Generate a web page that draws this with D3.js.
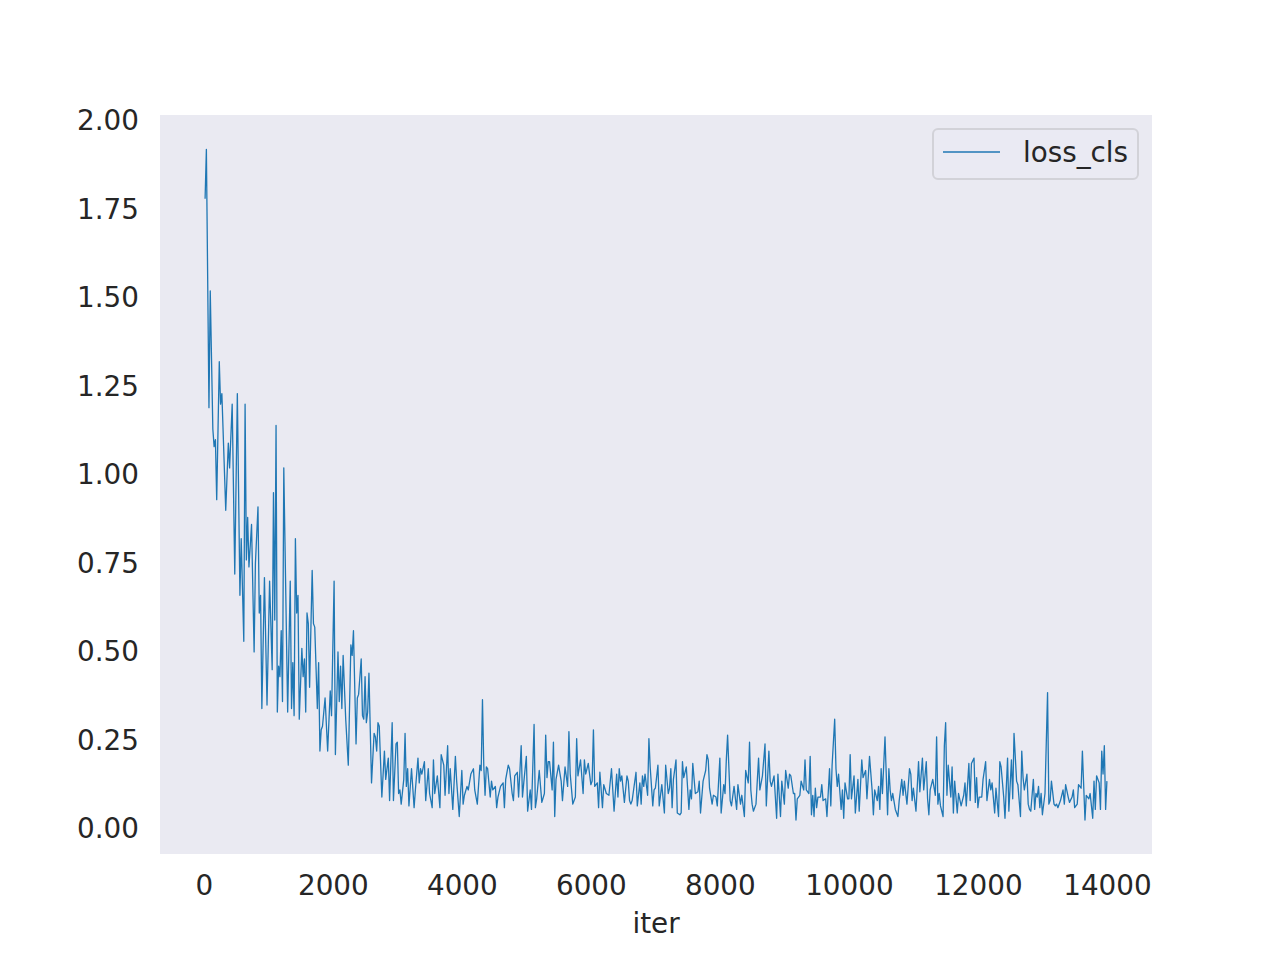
<!DOCTYPE html>
<html lang="en">
<head>
	<meta charset="UTF-8">
	<title>loss_cls</title>
	<script src="https://d3js.org/d3.v7.min.js"></script>
	<style>
		body {
			margin: 0;
			background-color: white;
		}
		svg {
			background-color: white;
			font-family: "DejaVu Sans", sans-serif;
		}
		.axis text {
			font-family: "DejaVu Sans", sans-serif;
			font-size: 27.8px;
			fill: #262626;
		}
		.axis path,
		.axis line {
			display: none;
		}
	</style>
</head>
<body>
	<script>
		// values (iteration, classification loss)
		var iters = [
			20,40,80,100,140,160,180,200,240,260,
			280,340,380,400,440,480,520,560,580,620,
			640,660,680,700,740,780,800,840,860,880,
			900,940,980,1020,1060,1080,1100,1120,1140,1160,
			1180,1200,1220,1240,1300,1340,1360,1380,1400,1420,
			1440,1460,1480,1520,1540,1560,1580,1600,1620,1640,
			1680,1700,1720,1760,1780,1800,1820,1840,1880,1920,
			1960,1980,2020,2040,2080,2100,2120,2140,2160,2200,
			2240,2280,2300,2320,2360,2380,2400,2440,2460,2480,
			2500,2520,2540,2560,2600,2640,2660,2680,2700,2720,
			2760,2800,2820,2860,2880,2920,2940,2980,3000,3020,
			3040,3060,3100,3120,3140,3160,3180,3220,3260,3280,
			3320,3340,3360,3380,3420,3440,3480,3500,3540,3560,
			3580,3620,3660,3680,3700,3720,3740,3780,3800,3820,
			3860,3900,3920,3960,4000,4020,4040,4080,4100,4140,
			4180,4200,4240,4280,4300,4320,4340,4360,4380,4400,
			4440,4460,4480,4520,4540,4560,4600,4640,4660,4680,
			4720,4740,4780,4800,4820,4860,4880,4920,4940,4960,
			5000,5020,5060,5080,5120,5140,5160,5200,5240,5280,
			5300,5320,5340,5360,5400,5420,5440,5460,5500,5540,
			5560,5600,5640,5660,5680,5720,5760,5780,5800,5840,
			5880,5900,5920,5960,6000,6020,6040,6060,6100,6120,
			6140,6180,6200,6240,6280,6320,6360,6400,6420,6440,
			6460,6480,6520,6560,6580,6600,6620,6640,6700,6720,
			6760,6780,6800,6820,6840,6880,6900,6920,6960,6980,
			7000,7040,7060,7100,7140,7160,7200,7220,7240,7260,
			7280,7320,7340,7380,7400,7420,7440,7480,7520,7540,
			7560,7580,7620,7660,7680,7700,7740,7780,7800,7820,
			7840,7880,7900,7940,7960,8000,8020,8060,8080,8100,
			8120,8160,8180,8220,8260,8280,8320,8340,8380,8400,
			8440,8460,8480,8500,8520,8560,8600,8620,8660,8700,
			8720,8760,8780,8800,8840,8880,8900,8940,8960,9000,
			9020,9060,9080,9100,9140,9160,9180,9200,9240,9260,
			9300,9320,9340,9380,9400,9420,9440,9460,9480,9500,
			9520,9560,9580,9600,9640,9660,9700,9720,9740,9780,
			9800,9820,9840,9880,9900,9920,9940,9980,10000,10020,
			10040,10080,10100,10140,10160,10200,10220,10260,10280,10320,
			10360,10380,10400,10440,10460,10480,10500,10520,10560,10600,
			10620,10640,10660,10680,10720,10760,10780,10820,10840,10860,
			10900,10940,10960,10980,11000,11040,11080,11100,11140,11160,
			11200,11220,11240,11260,11300,11340,11360,11380,11400,11420,
			11460,11480,11500,11520,11540,11580,11600,11620,11640,11680,
			11700,11740,11780,11800,11820,11860,11880,11900,11940,11960,
			11980,12000,12020,12060,12080,12120,12140,12180,12200,12220,
			12260,12280,12320,12340,12360,12400,12420,12460,12480,12520,
			12540,12560,12600,12620,12660,12680,12700,12720,12760,12780,
			12800,12820,12860,12880,12900,12920,12940,12960,12980,13000,
			13040,13080,13100,13120,13140,13180,13200,13220,13240,13280,
			13320,13340,13360,13400,13420,13460,13480,13500,13540,13560,
			13600,13620,13660,13680,13720,13740,13780,13800,13820,13840,
			13880,13900,13920,13940,13960,13980,14000
		];

		var lossCls = [
			1.78,1.92,1.19,1.52,1.13,1.08,1.10,0.93,1.32,1.20,
			1.23,0.90,1.09,1.02,1.20,0.72,1.23,0.66,0.82,0.53,
			1.20,0.76,0.88,0.74,0.86,0.50,0.75,0.91,0.61,0.66,
			0.34,0.71,0.35,0.70,0.45,0.95,0.59,1.14,0.33,0.46,
			0.43,0.56,0.36,1.02,0.33,0.70,0.34,0.47,0.32,0.82,
			0.61,0.66,0.31,0.51,0.43,0.48,0.33,0.61,0.58,0.40,
			0.73,0.58,0.57,0.34,0.47,0.22,0.28,0.29,0.37,0.22,
			0.39,0.32,0.70,0.21,0.50,0.36,0.46,0.34,0.49,0.31,
			0.18,0.52,0.49,0.56,0.24,0.37,0.38,0.48,0.32,0.31,
			0.43,0.30,0.33,0.44,0.13,0.27,0.26,0.22,0.30,0.29,
			0.09,0.22,0.14,0.20,0.08,0.30,0.08,0.24,0.245,0.10,
			0.11,0.07,0.14,0.27,0.12,0.17,0.065,0.17,0.06,0.11,
			0.20,0.13,0.17,0.155,0.19,0.08,0.17,0.10,0.06,0.195,
			0.10,0.15,0.06,0.21,0.195,0.18,0.095,0.235,0.10,0.17,
			0.055,0.205,0.135,0.035,0.165,0.07,0.095,0.12,0.11,0.155,
			0.17,0.11,0.07,0.18,0.165,0.365,0.18,0.095,0.175,0.17,
			0.09,0.135,0.11,0.12,0.06,0.09,0.12,0.13,0.06,0.14,
			0.18,0.17,0.10,0.08,0.15,0.16,0.09,0.235,0.09,0.13,
			0.205,0.05,0.11,0.055,0.295,0.06,0.085,0.165,0.075,0.10,
			0.265,0.145,0.19,0.19,0.11,0.245,0.035,0.14,0.18,0.135,
			0.08,0.175,0.12,0.275,0.155,0.07,0.09,0.255,0.15,0.195,
			0.10,0.195,0.155,0.185,0.125,0.135,0.28,0.12,0.13,0.06,
			0.16,0.06,0.125,0.10,0.095,0.17,0.05,0.155,0.09,0.17,
			0.135,0.15,0.075,0.15,0.135,0.08,0.07,0.08,0.16,0.065,
			0.13,0.07,0.15,0.12,0.155,0.095,0.255,0.175,0.065,0.11,
			0.115,0.18,0.065,0.125,0.045,0.18,0.10,0.115,0.17,0.06,
			0.14,0.195,0.045,0.04,0.045,0.19,0.145,0.175,0.055,0.11,
			0.085,0.185,0.10,0.105,0.135,0.045,0.135,0.165,0.21,0.195,
			0.115,0.07,0.095,0.09,0.065,0.20,0.045,0.125,0.10,0.195,
			0.265,0.08,0.065,0.12,0.055,0.125,0.07,0.095,0.035,0.165,
			0.13,0.245,0.11,0.07,0.05,0.07,0.20,0.11,0.15,0.24,
			0.065,0.22,0.135,0.12,0.15,0.03,0.155,0.035,0.135,0.07,
			0.165,0.115,0.155,0.15,0.10,0.10,0.025,0.085,0.095,0.135,
			0.11,0.195,0.11,0.10,0.205,0.04,0.095,0.035,0.115,0.06,
			0.09,0.09,0.125,0.08,0.085,0.035,0.17,0.065,0.18,0.31,
			0.17,0.12,0.155,0.055,0.11,0.03,0.13,0.085,0.085,0.21,
			0.085,0.15,0.045,0.14,0.05,0.195,0.145,0.165,0.085,0.205,
			0.11,0.04,0.11,0.08,0.12,0.055,0.17,0.10,0.26,0.04,
			0.17,0.11,0.08,0.10,0.055,0.035,0.08,0.14,0.095,0.135,
			0.07,0.17,0.155,0.08,0.115,0.05,0.19,0.105,0.20,0.11,
			0.19,0.085,0.04,0.11,0.14,0.095,0.26,0.07,0.10,0.065,
			0.035,0.235,0.30,0.095,0.18,0.09,0.175,0.045,0.135,0.045,
			0.10,0.065,0.095,0.13,0.065,0.185,0.08,0.185,0.20,0.075,
			0.145,0.06,0.09,0.09,0.14,0.19,0.08,0.14,0.11,0.13,
			0.045,0.115,0.035,0.19,0.175,0.09,0.03,0.20,0.05,0.195,
			0.085,0.27,0.135,0.125,0.035,0.22,0.145,0.11,0.155,0.07,
			0.055,0.05,0.14,0.055,0.10,0.09,0.12,0.06,0.10,0.04,
			0.10,0.385,0.07,0.08,0.135,0.07,0.065,0.07,0.06,0.08,
			0.11,0.07,0.125,0.09,0.075,0.09,0.11,0.06,0.07,0.125,
			0.115,0.22,0.025,0.095,0.085,0.10,0.03,0.135,0.055,0.15,
			0.13,0.055,0.22,0.155,0.235,0.055,0.135
		];

		var xTicks = [0,2000,4000,6000,8000,10000,12000,14000];
		var yTicks = [0,0.25,0.5,0.75,1.0,1.25,1.5,1.75,2.0];
		var seriesName = 'loss_cls';
		var xLabel = 'iter';

		var W = 1280,
			H = 960,
			margin = {top: 115, right: 128, bottom: 106, left: 160},
			width = W - margin.left - margin.right,
			height = H - margin.top - margin.bottom;

		var data = iters.map(function (d, i) {
			return {iter: d, loss: lossCls[i]};
		});

		var svg = d3.select('body')
			.append('svg')
			.attr('width', W)
			.attr('height', H);

		var g = svg.append('g')
			.attr('transform', 'translate(' + margin.left + ',' + margin.top + ')');

		// matplotlib-style 5% padding around the data
		var xMin = d3.min(iters), xMax = d3.max(iters);
		var xPad = (xMax - xMin) * 0.05;
		var x = d3.scaleLinear()
			.domain([xMin - xPad, xMax + xPad])
			.range([0, width]);

		var yMin = 0.024, yMax = 1.922;
		var yPad = (yMax - yMin) * 0.05;
		var y = d3.scaleLinear()
			.domain([yMin - yPad, yMax + yPad])
			.range([height, 0]);

		g.append('rect')
			.attr('width', width)
			.attr('height', height)
			.attr('fill', '#EAEAF2');

		g.append('g')
			.attr('class', 'axis')
			.attr('font-family', null)
			.attr('transform', 'translate(0,' + height + ')')
			.call(d3.axisBottom(x).tickValues(xTicks).tickSize(0).tickPadding(21).tickFormat(d3.format('d')));

		g.append('g')
			.attr('class', 'axis')
			.call(d3.axisLeft(y).tickValues(yTicks).tickSize(0).tickPadding(21).tickFormat(d3.format('.2f')));

		g.append('text')
			.attr('x', width / 2)
			.attr('y', height + 79)
			.attr('text-anchor', 'middle')
			.attr('font-size', '27.8px')
			.attr('fill', '#262626')
			.text(xLabel);

		var line = d3.line()
			.x(function (d) { return x(d.iter); })
			.y(function (d) { return y(d.loss); });

		g.append('path')
			.datum(data)
			.attr('fill', 'none')
			.attr('stroke', '#1f77b4')
			.attr('stroke-width', 1.3)
			.attr('stroke-linejoin', 'round')
			.attr('d', line);

		// legend
		var lg = g.append('g')
			.attr('transform', 'translate(' + (width - 219) + ',14)');

		lg.append('rect')
			.attr('width', 205)
			.attr('height', 50)
			.attr('rx', 5)
			.attr('fill', '#EAEAF2')
			.attr('fill-opacity', 0.8)
			.attr('stroke', '#d2d2d8')
			.attr('stroke-width', 2);

		lg.append('line')
			.attr('x1', 10)
			.attr('x2', 67)
			.attr('y1', 23)
			.attr('y2', 23)
			.attr('stroke', '#1f77b4')
			.attr('stroke-width', 1.3);

		lg.append('text')
			.attr('x', 90)
			.attr('y', 23)
			.attr('dy', '0.35em')
			.attr('font-size', '27.8px')
			.attr('fill', '#262626')
			.text(seriesName);
	</script>
</body>
</html>
